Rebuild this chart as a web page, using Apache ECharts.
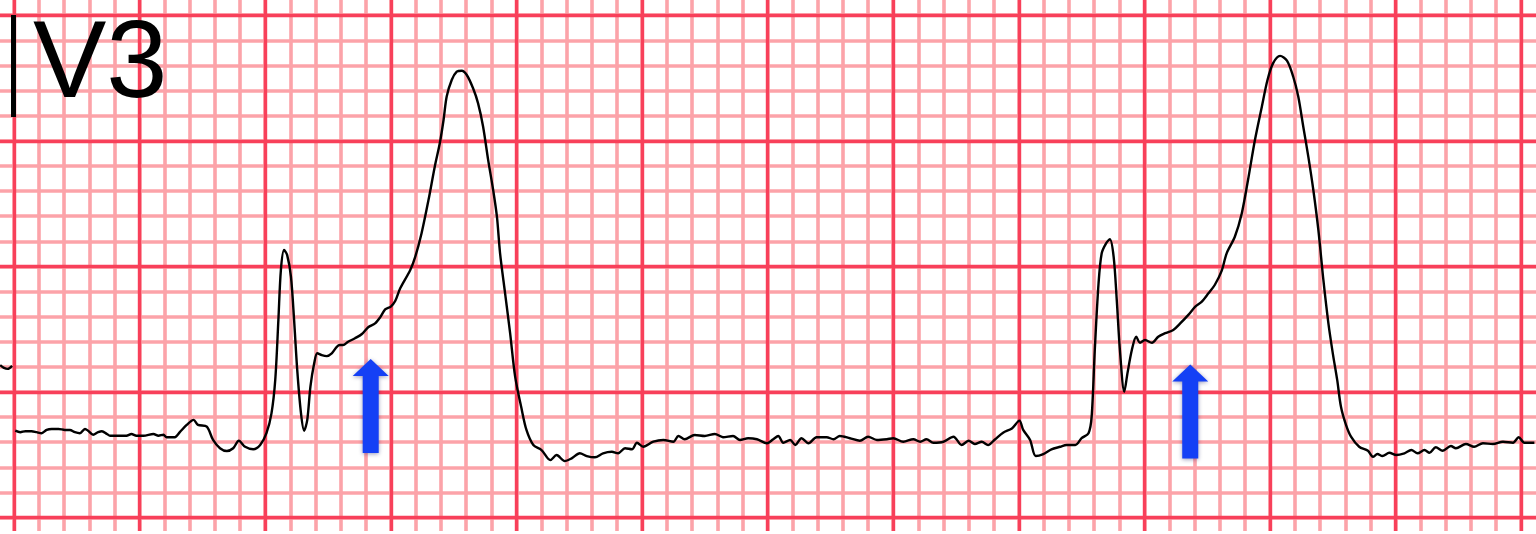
<!DOCTYPE html>
<html>
<head>
<meta charset="utf-8">
<script src="https://cdn.jsdelivr.net/npm/echarts@6/dist/echarts.min.js"></script>
<style>
html,body{margin:0;padding:0;background:#fff;}
#chart{width:1536px;height:534px;}
</style>
</head>
<body>
<div id="chart"></div>
<script>
// Lead label
var leadName = 'V3';

// Main V3 trace: time (s), amplitude (mV)
var traceTime = [
0.002,0.010,0.018,0.028,0.036,0.044,0.052,0.060,0.071,0.081,0.089,0.097,0.105,0.113,0.118,0.126,0.134,0.140,0.148,0.153,
0.161,0.179,0.187,0.195,0.206,0.222,0.230,0.238,0.243,0.256,0.264,0.275,0.286,0.293,0.307,0.317,0.328,0.339,0.349,0.358,
0.368,0.381,0.392,0.402,0.410,0.416,0.421,0.425,0.430,0.435,0.441,0.446,0.451,0.457,0.462,0.467,0.472,0.478,0.483,0.490,
0.498,0.506,0.514,0.519,0.524,0.532,0.543,0.554,0.564,0.575,0.583,0.591,0.600,0.607,0.615,0.631,0.639,0.649,0.660,0.670,
0.678,0.684,0.689,0.697,0.705,0.713,0.721,0.731,0.739,0.747,0.755,0.763,0.769,0.774,0.782,0.790,0.798,0.808,0.816,0.827,
0.840,0.854,0.864,0.877,0.888,0.901,0.912,0.925,0.938,0.952,0.962,0.973,0.984,0.992,1.002,1.018,1.034,1.050,1.058,1.068,
1.084,1.100,1.116,1.129,1.145,1.156,1.169,1.183,1.199,1.209,1.217,1.225,1.236,1.244,1.254,1.265,1.278,1.294,1.305,1.315,
1.331,1.347,1.360,1.374,1.390,1.400,1.416,1.432,1.443,1.453,1.464,1.480,1.496,1.509,1.520,1.530,1.541,1.551,1.562,1.575,
1.589,1.601,1.607,1.618,1.627,1.639,1.652,1.666,1.676,1.690,1.700,1.711,1.716,1.721,1.727,1.732,1.739,1.745,1.751,1.756,
1.761,1.768,1.773,1.780,1.787,1.793,1.801,1.812,1.822,1.833,1.846,1.857,1.870,1.881,1.891,1.902,1.912,1.923,1.931,1.944,
1.955,1.965,1.976,1.987,1.996,2.005,2.016,2.027,2.037,2.045,2.053,2.061,2.069,2.077,2.085,2.093,2.100,2.107,2.113,2.121,
2.129,2.142,2.156,2.164,2.171,2.179,2.190,2.201,2.214,2.225,2.235,2.246,2.254,2.264,2.275,2.288,2.296,2.312,2.325,2.339,
2.355,2.371,2.387,2.396,2.405,2.421
];
var traceMv = [
-0.154,-0.160,-0.156,-0.156,-0.160,-0.164,-0.151,-0.147,-0.147,-0.151,-0.151,-0.160,-0.164,-0.147,-0.154,-0.170,-0.160,-0.156,-0.167,-0.174,
-0.174,-0.174,-0.167,-0.174,-0.174,-0.167,-0.174,-0.170,-0.180,-0.180,-0.160,-0.131,-0.111,-0.131,-0.138,-0.191,-0.224,-0.235,-0.224,-0.194,
-0.218,-0.228,-0.211,-0.164,-0.085,0.048,0.287,0.486,0.565,0.545,0.459,0.287,0.088,-0.085,-0.154,-0.111,0.021,0.114,0.154,0.147,
0.143,0.154,0.180,0.187,0.187,0.200,0.214,0.231,0.258,0.273,0.297,0.329,0.340,0.362,0.413,0.486,0.539,0.632,0.764,0.897,
0.990,1.083,1.176,1.242,1.275,1.279,1.262,1.209,1.149,1.056,0.924,0.804,0.698,0.552,0.393,0.234,0.061,-0.064,-0.151,-0.211,
-0.231,-0.271,-0.251,-0.275,-0.264,-0.244,-0.255,-0.260,-0.244,-0.238,-0.244,-0.224,-0.228,-0.202,-0.218,-0.198,-0.191,-0.198,-0.175,-0.188,
-0.171,-0.175,-0.167,-0.180,-0.175,-0.191,-0.184,-0.188,-0.204,-0.188,-0.175,-0.202,-0.191,-0.211,-0.184,-0.204,-0.180,-0.180,-0.188,-0.175,
-0.184,-0.194,-0.178,-0.191,-0.188,-0.184,-0.198,-0.188,-0.198,-0.188,-0.202,-0.198,-0.178,-0.211,-0.194,-0.207,-0.198,-0.211,-0.189,-0.162,
-0.145,-0.114,-0.151,-0.191,-0.255,-0.247,-0.228,-0.218,-0.211,-0.211,-0.184,-0.164,-0.098,0.167,0.433,0.552,0.592,0.608,0.539,0.366,
0.167,0.001,0.074,0.167,0.220,0.196,0.207,0.196,0.220,0.234,0.247,0.273,0.307,0.340,0.359,0.393,0.426,0.482,0.552,0.618,
0.711,0.844,1.003,1.136,1.242,1.309,1.338,1.319,1.255,1.176,1.056,0.937,0.804,0.645,0.446,0.273,0.154,0.048,-0.059,-0.131,
-0.178,-0.218,-0.234,-0.258,-0.247,-0.255,-0.242,-0.251,-0.244,-0.231,-0.244,-0.231,-0.242,-0.220,-0.234,-0.215,-0.224,-0.207,-0.218,-0.204,
-0.207,-0.198,-0.202,-0.180,-0.202,-0.202
];

// End of the preceding lead, visible at the left edge
var prevTime = [-0.022,-0.016,-0.010,-0.003];
var prevMv = [0.107,0.096,0.092,0.104];

// Blue arrows marking the ST segment
var arrowTime = [0.568,1.873];
var arrowMv = [-0.056,-0.078];

// Paper grid: 0.04 s / 0.1 mV small boxes, 0.2 s / 0.5 mV large boxes
var timeRange = [-0.2, 2.6];
var mvRange = [-1.0, 2.0];

function zip(a, b){ return a.map(function(v,i){ return [v, b[i]]; }); }

var minorColor = '#fca3a9';
var majorColor = '#f8405a';

var chart = echarts.init(document.getElementById('chart'), null, {renderer:'canvas'});
var hidden = {axisLine:{show:false}, axisTick:{show:false}, axisLabel:{show:false}};

var option = {
  animation:false,
  backgroundColor:'#ffffff',
  grid:{left:-111.6, right:-110.8, top:-110.4, bottom:-109.2, containLabel:false, outerBoundsMode:'none'},
  xAxis:[
    Object.assign({type:'value', min:timeRange[0], max:timeRange[1], interval:0.04, z:0,
      splitLine:{show:true, lineStyle:{color:minorColor, width:3.6}}}, hidden),
    Object.assign({type:'value', min:timeRange[0], max:timeRange[1], interval:0.2, z:1, position:'top',
      splitLine:{show:true, lineStyle:{color:majorColor, width:3.4}}}, hidden)
  ],
  yAxis:[
    Object.assign({type:'value', min:mvRange[0], max:mvRange[1], interval:0.1, z:0,
      splitLine:{show:true, lineStyle:{color:minorColor, width:3.6}}}, hidden),
    Object.assign({type:'value', min:mvRange[0], max:mvRange[1], interval:0.5, z:1, position:'right',
      splitLine:{show:true, lineStyle:{color:majorColor, width:3.4}}}, hidden)
  ],
  title:{text:leadName, left:28, top:7, padding:5,
    textStyle:{fontSize:110, fontWeight:'normal', color:'#000', fontFamily:'"Liberation Sans", Arial, Helvetica, sans-serif'}},
  graphic:[
    {type:'rect', z:100, shape:{x:11, y:15, width:5, height:102}, style:{fill:'#000'}},
    {type:'rect', z:100, shape:{x:0, y:531, width:1536, height:3}, style:{fill:'#fff'}}
  ],
  series:[
    {type:'line', name:'prev', data:zip(prevTime, prevMv), showSymbol:false, smooth:0.3, z:5,
      lineStyle:{color:'#000', width:2.4}},
    {type:'line', name:leadName, data:zip(traceTime, traceMv), showSymbol:false, smooth:0.3, z:5,
      lineStyle:{color:'#000', width:2.4}},
    {type:'scatter', name:'arrows', data:zip(arrowTime, arrowMv), z:6,
      symbol:'path://M18,0 L36,17 L26,17 L26,94 L10,94 L10,17 L0,17 Z',
      symbolSize:[36,94], symbolKeepAspect:false,
      itemStyle:{color:'#1440f5', opacity:1, shadowColor:'rgba(0,0,80,0.4)', shadowBlur:4, shadowOffsetY:1}}
  ]
};
chart.setOption(option);
</script>
</body>
</html>
